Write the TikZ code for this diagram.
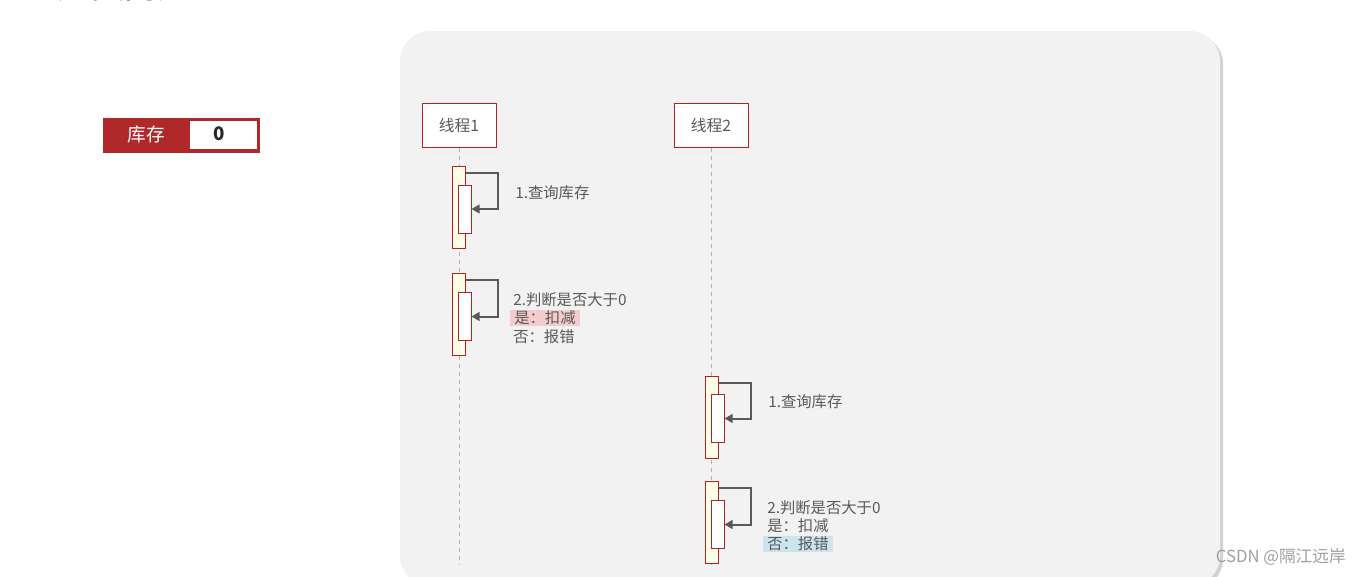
\documentclass[tikz,border=0pt]{standalone}
\usepackage{fontspec}
\setmainfont{Noto Sans CJK SC}
\usetikzlibrary{calc,arrows.meta}
\definecolor{dred}{HTML}{B0292A}
\definecolor{bred}{HTML}{B22222}
\definecolor{txt}{HTML}{595959}
\definecolor{panel}{HTML}{F2F2F2}
\definecolor{ltyel}{HTML}{FFFFE8}
\definecolor{pinkhl}{HTML}{F4CCCC}
\definecolor{bluehl}{HTML}{CBE5EE}
\tikzset{
  px/.style={x=0.75pt,y=-0.75pt},
  thread/.style={draw=bred,fill=white,line width=0.75pt,minimum width=55.5pt,minimum height=33pt,inner sep=0pt,font=\fontsize{11.8pt}{13pt}\selectfont,text=txt},
  lifeline/.style={draw=gray!60,line width=0.6pt,dash pattern=on 3pt off 3pt},
  actout/.style={draw=bred,fill=ltyel,line width=0.75pt,minimum width=9.75pt,minimum height=61.5pt,inner sep=0pt},
  actin/.style={draw=bred,fill=white,line width=0.75pt,minimum width=9.75pt,minimum height=36pt,inner sep=0pt},
  msg/.style={draw=txt,line width=1.5pt,-{Triangle[length=6pt,width=6.5pt]}},
  lbl/.style={anchor=west,inner sep=0pt,text=txt,font=\fontsize{11.5pt}{13.5pt}\selectfont,align=left},
  hl/.style={anchor=west,inner xsep=3pt,inner ysep=1pt,text=txt,font=\fontsize{11.5pt}{13.5pt}\selectfont},
}
\begin{document}
\begin{tikzpicture}[px]
\useasboundingbox (0,0) rectangle (1361,576);
\fill[white] (0,0) rectangle (1361,576);
% title fragment
\begin{scope}
\clip (0,0) rectangle (1361,576);
\node[anchor=south west,inner sep=0pt,text=dred,font=\fontsize{25pt}{28pt}\selectfont] (title) at (58,1) {超卖问题};
\end{scope}
% stock box
\node[draw=dred,fill=dred,line width=0pt,minimum width=117pt,minimum height=25.5pt,inner sep=0pt] (stock) at (181,135) {};
\node[fill=white,minimum width=50pt,minimum height=21pt,inner sep=0pt] (stockval) at (223.5,135) {};
\node[text=txt!130,font=\fontsize{14pt}{16pt}\selectfont\bfseries] (stockvalt) at (219,134) {0};
\node[text=white,font=\fontsize{14pt}{16pt}\selectfont] (stocklbl) at (146,134) {库存};
% panel
\begin{scope}
\clip (0,0) rectangle (1361,576);
\fill[gray!35,rounded corners=22.5pt] (403,34) rectangle (1223,589);
\fill[panel,rounded corners=22.5pt] (400,31) rectangle (1220,586);
\end{scope}
% threads
\node[thread] (t1) at (459,125) {线程1};
\node[thread] (t2) at (711,125) {线程2};
\coordinate (e1) at (459,565);
\coordinate (e2) at (711,565);
\draw[lifeline] (t1.south) -- (e1);
\draw[lifeline] (t2.south) -- (e2);
% activations thread 1
\node[actout] (a1) at (458.5,207) {};
\node[actin] (b1) at (464.5,209) {};
\draw[msg] ($(a1.north east)+(0,7)$) -- ++(32,0) |- (b1.east);
\node[lbl] (l1) at (515,193) {1.查询库存};
\node[actout] (a2) at (458.5,314) {};
\node[actin] (b2) at (464.5,316.5) {};
\draw[msg] ($(a2.north east)+(0,7)$) -- ++(32,0) |- (b2.east);
\node[lbl] (l2a) at (513,300) {2.判断是否大于0};
\node[hl,fill=pinkhl] (l2b) at (510,318) {是：扣减};
\node[lbl] (l2c) at (513,337) {否：报错};
% activations thread 2
\node[actout] (a3) at (711.5,417) {};
\node[actin] (b3) at (717.5,418.5) {};
\draw[msg] ($(a3.north east)+(0,7)$) -- ++(32,0) |- (b3.east);
\node[lbl] (l3) at (768,402) {1.查询库存};
\node[actout] (a4) at (711.5,522) {};
\node[actin] (b4) at (717.5,524.5) {};
\draw[msg] ($(a4.north east)+(0,7)$) -- ++(32,0) |- (b4.east);
\node[lbl] (l4a) at (767,508) {2.判断是否大于0};
\node[lbl] (l4b) at (767,526) {是：扣减};
\node[hl,fill=bluehl] (l4c) at (763,544) {否：报错};
% watermark
\node[anchor=east,inner sep=0pt,text=gray!75,font=\fontsize{12.5pt}{14pt}\selectfont] (wm) at (1346,557) {CSDN @隔江远岸};
\end{tikzpicture}
\end{document}
